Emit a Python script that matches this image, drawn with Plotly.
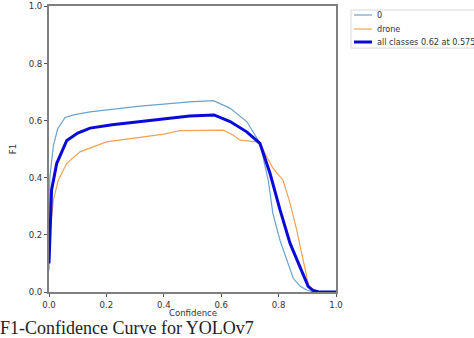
import plotly.graph_objects as go

# F1 vs confidence threshold, per class and overall
conf_0 = [0.0, 0.003, 0.015, 0.03, 0.056, 0.09, 0.143, 0.22, 0.317, 0.40, 0.49, 0.573, 0.63, 0.689, 0.735, 0.764, 0.78, 0.805, 0.828, 0.851, 0.875, 0.898, 0.92, 1.0]
f1_0 = [0.08, 0.40, 0.51, 0.57, 0.61, 0.62, 0.63, 0.64, 0.65, 0.657, 0.665, 0.669, 0.643, 0.596, 0.52, 0.39, 0.275, 0.18, 0.112, 0.048, 0.02, 0.007, 0.0, 0.0]

conf_drone = [0.0, 0.005, 0.015, 0.032, 0.062, 0.108, 0.2, 0.317, 0.40, 0.456, 0.607, 0.64, 0.666, 0.724, 0.741, 0.76, 0.78, 0.816, 0.84, 0.863, 0.886, 0.903, 0.915, 0.93, 1.0]
f1_drone = [0.077, 0.22, 0.32, 0.39, 0.45, 0.49, 0.525, 0.54, 0.552, 0.564, 0.566, 0.55, 0.531, 0.525, 0.508, 0.47, 0.433, 0.39, 0.31, 0.217, 0.112, 0.03, 0.007, 0.0, 0.0]

conf_all = [0.0, 0.004, 0.009, 0.027, 0.062, 0.1, 0.143, 0.22, 0.317, 0.40, 0.49, 0.575, 0.631, 0.689, 0.735, 0.77, 0.805, 0.84, 0.875, 0.903, 0.921, 0.94, 1.0]
f1_all = [0.10, 0.25, 0.357, 0.45, 0.53, 0.556, 0.573, 0.585, 0.596, 0.605, 0.615, 0.619, 0.596, 0.56, 0.52, 0.415, 0.287, 0.17, 0.089, 0.02, 0.005, 0.0, 0.0]

series_names = ["0", "drone", "all classes 0.62 at 0.575"]
series_x = [conf_0, conf_drone, conf_all]
series_y = [f1_0, f1_drone, f1_all]
series_colors = ["#6aa3cf", "#f3a253", "#0a0ad8"]
series_widths = [1.2, 1.2, 3]

SANS = "DejaVu Sans Condensed, DejaVu Sans"
TEXT = "#333"

fig = go.Figure()
for name, xs, ys, color, width in zip(series_names, series_x, series_y,
                                      series_colors, series_widths):
    fig.add_trace(go.Scatter(x=xs, y=ys, mode="lines", name=name,
                             line=dict(color=color, width=width),
                             showlegend=False))

axis_style = dict(
    range=[0, 1], dtick=0.2, tickformat=".1f",
    showgrid=False, zeroline=False,
    showline=True, linecolor="#7f7f7f", linewidth=1.6, mirror=True,
    ticks="outside", ticklen=3, tickcolor="#555",
    tickfont=dict(family=SANS, size=9.5, color=TEXT),
)

# Legend panel drawn in paper coordinates to the right of the axes
shapes = [dict(type="rect", xref="paper", yref="paper",
               x0=1.0523, x1=1.6, y0=0.853, y1=0.986,
               line=dict(color="#d8d8d8", width=1), fillcolor="white")]
annotations = []
row_y = [0.9685, 0.9196, 0.8741]
for name, color, width, yy in zip(series_names, series_colors, series_widths, row_y):
    shapes.append(dict(type="line", xref="paper", yref="paper",
                       x0=1.0627, x1=1.1254, y0=yy, y1=yy,
                       line=dict(color=color, width=width)))
    annotations.append(dict(text=name, xref="paper", yref="paper",
                            x=1.1359, y=yy, xanchor="left", yanchor="middle",
                            showarrow=False,
                            font=dict(family=SANS, size=9, color=TEXT)))

# x-axis label, sitting just under the tick labels
annotations.append(dict(
    text="Confidence", xref="paper", yref="paper", x=0.5, y=-0.0717,
    xanchor="center", yanchor="middle", showarrow=False,
    font=dict(family=SANS, size=9.5, color=TEXT),
))

# figure caption
annotations.append(dict(
    text="F1-Confidence Curve for YOLOv7",
    xref="paper", yref="paper", x=-0.178, y=-0.125,
    xanchor="left", yanchor="middle", showarrow=False,
    font=dict(family="Liberation Serif", size=18, color="#222"),
))

fig.update_layout(
    width=474, height=338,
    margin=dict(l=49, r=138, t=6, b=46, autoexpand=False),
    paper_bgcolor="white", plot_bgcolor="white",
    xaxis=dict(**axis_style),
    yaxis=dict(**axis_style, title=dict(text="F1", standoff=10,
               font=dict(family=SANS, size=9.5, color=TEXT))),
    showlegend=False,
    shapes=shapes,
    annotations=annotations,
)

fig.write_html("out.html")
